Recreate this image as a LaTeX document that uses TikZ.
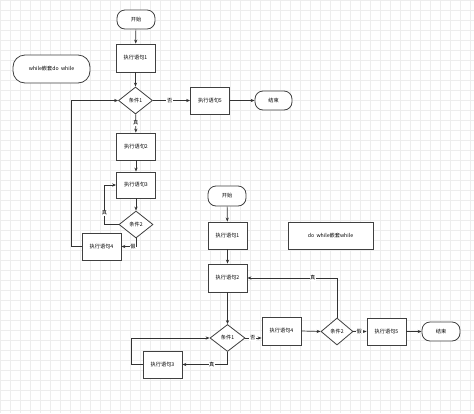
\documentclass[tikz,border=0pt]{standalone}
\usepackage{fontspec}
\setmainfont{Noto Sans CJK SC}
\usetikzlibrary{shapes.geometric,arrows.meta}
\newcommand{\fsz}{\fontsize{5.2}{6}\selectfont}
\tikzset{
  shp/.style={draw=black!75, line width=0.8pt, inner sep=0pt, font=\fsz, fill=white},
  box/.style={shp, minimum width=39pt, minimum height=27pt},
  term/.style={shp, rounded corners=8pt, minimum width=38pt, minimum height=19pt},
  dia/.style={shp, diamond, minimum width=34pt, minimum height=27pt},
  arr/.style={-{Stealth[length=4pt,width=3.2pt]}, line width=0.7pt, draw=black!80},
  lab/.style={fill=white, inner sep=0.6pt, font=\fsz}
}
\begin{document}
\begin{tikzpicture}[x=1pt,y=-1pt]
\useasboundingbox (0,0) rectangle (474,413);
\fill[white] (0,0) rectangle (474,413);
\foreach \i in {0,10,...,470} \draw[black!7, line width=0.4pt] (\i,0) -- (\i,413);
\foreach \j in {0,10,...,410} \draw[black!7, line width=0.4pt] (0,\j) -- (474,\j);

% ---------- diagram 1 ----------
\node[term] (s1) at (136,19.5) {开始};
\node[box, minimum height=28pt] (a1) at (135.5,58) {执行语句1};
\node[dia] (c1) at (135.5,100.5) {条件1};
\node[box] (a5) at (210,100.5) {执行语句5};
\node[term, minimum width=37pt] (e1) at (273.5,100.5) {结束};
\node[shp, rounded corners=12pt, minimum width=77pt, minimum height=28pt] (t1) at (51.5,69) {while嵌套do\ \ while};
\node[box] (a2) at (136,146.5) {执行语句2};
\node[box, minimum height=26pt] (a3) at (136,185) {执行语句3};
\node[dia] (c2) at (136,224.5) {条件2};
\node[box] (a4) at (101.5,246.5) {执行语句4};

\coordinate (k1) at (104.5,224.5);
\coordinate (k2) at (104.5,185);
\coordinate (k3) at (136,246.5);
\coordinate (k4) at (71,246.5);
\coordinate (k5) at (71,100.5);

\draw[arr] (s1) -- (a1);
\draw[arr] (a1) -- (c1);
\draw[arr] (c1) -- node[lab, pos=0.45] {否} (a5);
\draw[arr] (a5) -- (e1);
\draw[arr] (c1) -- node[lab, pos=0.45] {真} (a2);
\draw[arr] (a2) -- (a3);
\draw[arr] (a3) -- (c2);
\draw[arr] (c2.west) -- (k1) -- node[lab, pos=0.3] {真} (k2) -- (a3.west);
\draw[arr] (c2.south) -- (k3) -- node[lab, pos=0.2] {假} (a4.east);
\draw[arr] (a4.west) -- (k4) -- (k5) -- (c1.west);

% ---------- diagram 2 ----------
\node[term, minimum height=20pt] (s2) at (227,196) {开始};
\node[box] (b1) at (227.5,235.5) {执行语句1};
\node[box, minimum height=28pt] (b2) at (227.5,278) {执行语句2};
\node[shp, minimum width=85pt, minimum height=27pt] (t2) at (330.5,235.5) {do\ \ while嵌套while};
\node[dia, minimum width=35pt] (d1) at (227.5,338) {条件1};
\node[box, minimum height=28pt] (b4) at (281.5,331) {执行语句4};
\node[dia, minimum width=32pt] (d2) at (337,331.5) {条件2};
\node[box] (b5) at (386.5,331.5) {执行语句5};
\node[term] (e2) at (441,331.5) {结束};
\node[box] (b3) at (162.5,364.5) {执行语句3};

\coordinate (m1) at (337,278);
\coordinate (m2) at (227.5,364.5);
\coordinate (m3) at (131,364.5);
\coordinate (m4) at (131,338);

\draw[arr] (s2) -- (b1);
\draw[arr] (b1) -- (b2);
\draw[arr] (b2) -- (d1);
\draw[arr] (d1.east) -- node[lab, pos=0.45] {否} (d1.east -| b4.west);
\draw[arr] (b4.east) -- (d2.west);
\draw[arr] (d2.east) -- node[lab, pos=0.45] {假} (b5.west);
\draw[arr] (b5) -- (e2);
\draw[arr] (d2.north) -- (m1) -- node[lab, pos=0.27] {真} (b2.east);
\draw[arr] (d1.south) -- (m2) -- node[lab, pos=0.35] {真} (b3.east);
\draw[arr] (b3.west) -- (m3) -- (m4) -- (d1.west);
\end{tikzpicture}
\end{document}
